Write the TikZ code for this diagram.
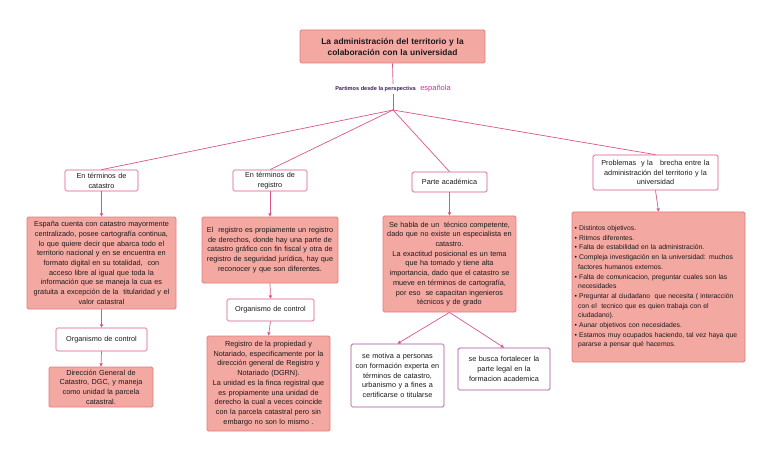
\documentclass[tikz,border=0pt]{standalone}
\usepackage{fontspec}
\setmainfont{Liberation Sans}
\usetikzlibrary{arrows.meta}
\definecolor{salmon}{HTML}{F4A8A2}
\definecolor{salmonedge}{HTML}{E27C7C}
\definecolor{pinkline}{HTML}{D9558C}
\definecolor{purpedge}{HTML}{9E4FA0}
\definecolor{labpurple}{HTML}{3B2160}
\definecolor{espmag}{HTML}{C23A9A}
\definecolor{txt}{HTML}{1A1A1A}
\tikzset{
  basebox/.style={rounded corners=1.5pt, align=center, inner sep=1pt, text=txt,
    font=\fontsize{7.3}{9.7}\selectfont},
  fillbox/.style={basebox, draw=salmonedge, fill=salmon, line width=0.8pt},
  whitebox/.style={basebox, draw=pinkline, fill=white, line width=0.7pt},
  subbox/.style={whitebox, draw=purpedge},
  conn/.style={draw=pinkline, line width=0.7pt},
  arr/.style={conn, -{Triangle[length=3.2pt,width=3.2pt]}},
  box/.style n args={2}{minimum width=#1, minimum height=#2, text width=#1-4pt},
}
\begin{document}
\begin{tikzpicture}[x=1pt,y=-1pt]
\useasboundingbox (0,0) rectangle (768,457);

\node[fillbox, box={185pt}{33pt}, font=\fontsize{8.4}{11}\selectfont\bfseries] (title) at (392.5,46.5)
  {La administración del territorio y la\\colaboración con la universidad};

\node[inner sep=1.5pt, fill=white] (lab) at (393,89)
  {{\fontsize{5.6}{7}\selectfont\bfseries\color{labpurple}Partimos desde la perspectiva}\,
   {\fontsize{7.5}{9}\selectfont\color{espmag}española}};

\coordinate (hub) at (393,110);

\node[whitebox, box={73pt}{21pt}] (cat) at (101.5,180.5) {En términos de\\catastro};
\node[whitebox, box={74pt}{21pt}] (reg) at (270,180.5) {En términos de\\registro};
\node[whitebox, box={75pt}{20pt}] (aca) at (449.5,182) {Parte académica};
\node[whitebox, box={125pt}{35pt}] (prob) at (655.5,172.5)
  {Problemas\ \ y la\ \ \ brecha entre la\\administración del territorio y la\\universidad};

\node[fillbox, box={149pt}{92pt}] (catd) at (101.5,263)
  {España cuenta con catastro mayormente\\
   centralizado, posee cartografía continua,\\
   lo que quiere decir que abarca todo el\\
   territorio nacional y en se encuentra en\\
   formato digital en su totalidad,\ \ con\\
   acceso libre al igual que toda la\\
   información que se maneja la cua es\\
   gratuita a excepción de la\ \ titularidad y el\\
   valor catastral};

\node[whitebox, box={91pt}{23pt}] (catorg) at (101.5,339.5) {Organismo de control};

\node[fillbox, box={104pt}{40pt}] (dgc) at (101,387)
  {Dirección General de\\Catastro, DGC, y maneja\\como unidad la parcela\\catastral.};

\node[fillbox, box={136pt}{66pt}] (regd) at (270,250)
  {El\ \ registro es propiamente un registro\\
   de derechos, donde hay una parte de\\
   catastro gráfico con fin fiscal y otra de\\
   registro de seguridad jurídica, hay que\\
   reconocer y que son diferentes.};

\node[whitebox, box={87pt}{22pt}] (regorg) at (270.5,310) {Organismo de control};

\node[fillbox, box={123pt}{95pt}] (regd2) at (268.5,383.5)
  {Registro de la propiedad y\\
   Notariado, especificamente por la\\
   dirección general de Registro y\\
   Notariado (DGRN).\\
   La unidad es la finca registral que\\
   es propiamente una unidad de\\
   derecho la cual a veces coincide\\
   con la parcela catastral pero sin\\
   embargo no son lo mismo .};

\node[fillbox, box={133pt}{96pt}] (acad) at (449.5,264)
  {Se habla de un\ \ técnico competente,\\
   dado que no existe un especialista en\\
   catastro.\\
   La exactitud posicional es un tema\\
   que ha tomado y tiene alta\\
   importancia, dado que el catastro se\\
   mueve en términos de cartografía,\\
   por eso\ \ se capacitan ingenieros\\
   técnicos y de grado};

\node[subbox, box={93pt}{63pt}] (subl) at (397.5,375.5)
  {se motiva a personas\\
   con formación experta en\\
   términos de catastro,\\
   urbanismo y a fines a\\
   certificarse o titularse};

\node[subbox, box={92pt}{42pt}] (subr) at (504,369)
  {se busca fortalecer la\\parte legal en la\\formacion academica};

\node[fillbox, box={173pt}{150pt}, align=left, text width=168pt,
      font=\fontsize{6.8}{9.7}\selectfont] (probd) at (658.5,287)
  {• Distintos objetivos.\\
   • Ritmos diferentes.\\
   • Falta de estabilidad en la administración.\\
   • Compleja investigación en la universidad: muchos\\
   \hspace*{0.55em}factores humanos externos.\\
   • Falta de comunicacion, preguntar cuales son las\\
   \hspace*{0.55em}necesidades\\
   • Preguntar al ciudadano\ \ que necesita ( interacción\\
   \hspace*{0.55em}con el\ \ tecnico que es quien trabaja con el\\
   \hspace*{0.55em}ciudadano).\\
   • Aunar objetivos con necesidades.\\
   • Estamos muy ocupados haciendo, tal vez haya que\\
   \hspace*{0.55em}pararse a pensar qué hacemos.};

% connectors
\draw[conn] (title.south) -- (lab.north);
\draw[conn] (lab.south) -- (hub);
\draw[conn] (hub) -- (cat.north);
\draw[conn] (hub) -- (reg.north);
\draw[conn] (hub) -- (aca.north);
\draw[conn] (hub) -- (prob.north);

\draw[arr] (cat.south) -- (catd.north);
\draw[arr] (catd.south) -- (catorg.north);
\draw[arr] (catorg.south) -- (dgc.north);

\draw[arr] (reg.south) -- (regd.north);
\draw[arr] (regd.south) -- (regorg.north);
\draw[arr] (regorg.south) -- (regd2.north);

\draw[arr] (aca.south) -- (acad.north);
\draw[arr] (acad.south) -- (subl.north);
\draw[arr] (acad.south) -- (subr.north);

\draw[arr] (prob.south) -- (probd.north);
\end{tikzpicture}
\end{document}
